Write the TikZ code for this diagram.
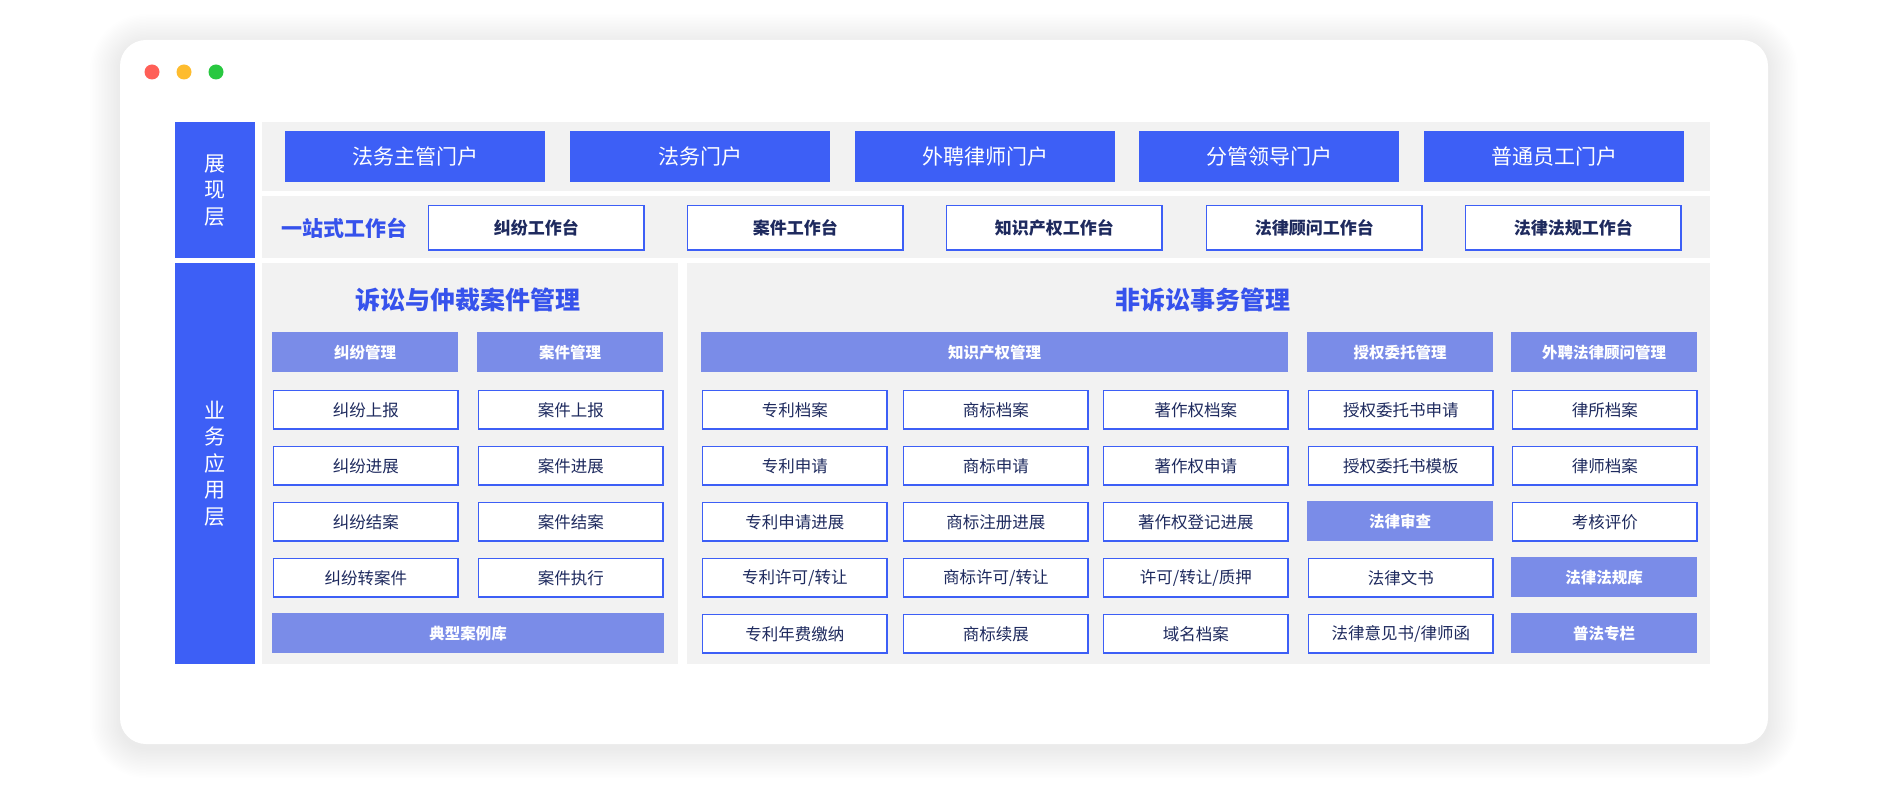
\documentclass[tikz,border=0pt]{standalone}
\usepackage{fontspec}
\setmainfont{Noto Sans CJK SC}
\definecolor{mainblue}{HTML}{3D5FF6}
\definecolor{headblue}{HTML}{7A8CE8}
\definecolor{panelgray}{HTML}{F2F2F2}
\definecolor{navy}{HTML}{1E2A5E}
\definecolor{titleblue}{HTML}{3652EC}
\definecolor{dotred}{HTML}{FF5F57}
\definecolor{dotyellow}{HTML}{FEBC2E}
\definecolor{dotgreen}{HTML}{28C840}
\begin{document}
\begin{tikzpicture}[x=1pt,y=-1pt,
  every node/.style={inner sep=0pt, anchor=north west},
  portal/.style={fill=mainblue, text=white, font=\fontsize{21}{21}\selectfont, minimum width=260pt, minimum height=51pt},
  bench/.style={draw=mainblue, line width=1.6pt, fill=white, text=navy, font=\fontsize{17}{17}\selectfont\bfseries, minimum width=215.4pt, minimum height=44.4pt},
  head/.style={fill=headblue, text=white, font=\fontsize{15.5}{16}\selectfont\bfseries, minimum height=40pt},
  item/.style={draw=mainblue, line width=1.6pt, fill=white, text=navy, font=\fontsize{16.5}{17}\selectfont, minimum width=184.4pt, minimum height=38.4pt},
  hitem/.style={head, minimum width=186pt},
  layer/.style={fill=mainblue, text=white, font=\fontsize{21}{26.5}\selectfont, align=center, minimum width=80pt},
  panel/.style={fill=panelgray},
  title/.style={anchor=center, text=titleblue, font=\fontsize{25}{25}\selectfont\bfseries},
  dot/.style={circle, minimum size=15pt, anchor=center},
  shadowlayer/.style={fill=black, opacity=0.005},
]
\useasboundingbox (0,0) rectangle (1888,786);
\fill[white] (0,0) rectangle (1888,786);
% soft shadow of the card
\foreach \k in {1,...,20} {
  \pgfmathsetmacro\rr{26+1.5*\k}
  \pgfmathsetmacro\dd{1.5*\k}
  \fill[shadowlayer, rounded corners=\rr pt] ({120-\dd},{44-\dd}) rectangle ({1768+\dd},{748+\dd});
}
% card
\path[fill=white, rounded corners=26pt] (120,40) rectangle (1768,744);
\node[dot, fill=dotred] (d1) at (152,72) {};
\node[dot, fill=dotyellow] (d2) at (184,72) {};
\node[dot, fill=dotgreen] (d3) at (216,72) {};
% layer labels
\node[layer, minimum height=136pt] (lay1) at (175,122) {展\\现\\层};
\node[layer, minimum height=401pt] (lay2) at (175,263) {业\\务\\应\\用\\层};
% panels
\fill[panel] (262,122) rectangle (1710,191);
\fill[panel] (262,196) rectangle (1710,258);
\fill[panel] (262,263) rectangle (678,664);
\fill[panel] (687,263) rectangle (1710,664);
% portals
\node[portal] (p1) at (285,131) {法务主管门户};
\node[portal] (p2) at (570,131) {法务门户};
\node[portal] (p3) at (855,131) {外聘律师门户};
\node[portal] (p4) at (1139,131) {分管领导门户};
\node[portal] (p5) at (1424,131) {普通员工门户};
% workbenches
\node[anchor=center, text=titleblue, font=\fontsize{21}{21}\selectfont\bfseries] (ws) at (344,228) {一站式工作台};
\node[bench] (b1) at (427.8,204.8) {纠纷工作台};
\node[bench] (b2) at (686.8,204.8) {案件工作台};
\node[bench] (b3) at (945.8,204.8) {知识产权工作台};
\node[bench] (b4) at (1205.8,204.8) {法律顾问工作台};
\node[bench] (b5) at (1464.8,204.8) {法律法规工作台};
% titles
\node[title] (t1) at (468,300) {诉讼与仲裁案件管理};
\node[title] (t2) at (1203,300) {非诉讼事务管理};
% headers
\node[hitem] (h1) at (272,332) {纠纷管理};
\node[hitem] (h2) at (477,332) {案件管理};
\node[head, minimum width=587pt] (h3) at (701,332) {知识产权管理};
\node[hitem] (h4) at (1307,332) {授权委托管理};
\node[hitem] (h5) at (1511,332) {外聘法律顾问管理};
% left items
\foreach \t [count=\i from 0] in {纠纷上报,纠纷进展,纠纷结案,纠纷转案件}
  \node[item] (la\i) at (272.8,{389.8+56*\i}) {\t};
\foreach \t [count=\i from 0] in {案件上报,案件进展,案件结案,案件执行}
  \node[item] (lb\i) at (477.8,{389.8+56*\i}) {\t};
\node[head, minimum width=392pt] (lib) at (272,613) {典型案例库};
% right items
\foreach \t [count=\i from 0] in {专利档案,专利申请,专利申请进展,专利许可/转让,专利年费缴纳}
  \node[item] (ra\i) at (701.8,{389.8+56*\i}) {\t};
\foreach \t [count=\i from 0] in {商标档案,商标申请,商标注册进展,商标许可/转让,商标续展}
  \node[item] (rb\i) at (902.8,{389.8+56*\i}) {\t};
\foreach \t [count=\i from 0] in {著作权档案,著作权申请,著作权登记进展,许可/转让/质押,域名档案}
  \node[item] (rc\i) at (1102.8,{389.8+56*\i}) {\t};
\node[item] (rd0) at (1307.8,389.8) {授权委托书申请};
\node[item] (rd1) at (1307.8,445.8) {授权委托书模板};
\node[hitem] (rd2) at (1307,501) {法律审查};
\node[item] (rd3) at (1307.8,557.8) {法律文书};
\node[item] (rd4) at (1307.8,613.8) {法律意见书/律师函};
\node[item] (re0) at (1511.8,389.8) {律所档案};
\node[item] (re1) at (1511.8,445.8) {律师档案};
\node[item] (re2) at (1511.8,501.8) {考核评价};
\node[hitem] (re3) at (1511,557) {法律法规库};
\node[hitem] (re4) at (1511,613) {普法专栏};
\end{tikzpicture}
\end{document}
